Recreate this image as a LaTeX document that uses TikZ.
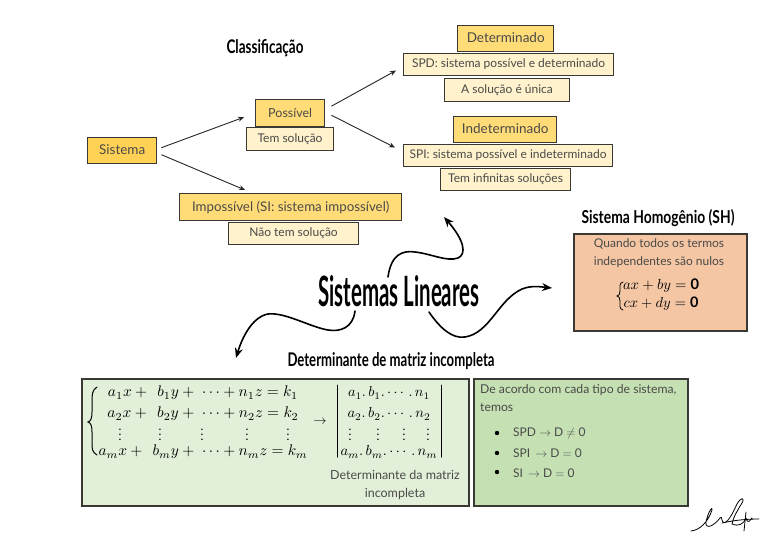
\documentclass[tikz,border=0pt]{standalone}
\usepackage{fontspec}
\usepackage{amsmath}
\usepackage{graphicx}
\usetikzlibrary{arrows.meta}
\setmainfont{Lato}
\newfontfamily\titlefont{Lato}
\definecolor{ink}{HTML}{4A4A48}
\definecolor{edge}{HTML}{3A3833}
\definecolor{ylA}{HTML}{FFD255}
\definecolor{ylB}{HTML}{FFDC78}
\definecolor{ylC}{HTML}{FFF2CC}
\definecolor{peach}{HTML}{F4C6A4}
\definecolor{grL}{HTML}{E2EFD9}
\definecolor{grD}{HTML}{C5E0B3}
\tikzset{
 x=1pt,y=-1pt,
 txt/.style={font=\fontsize{12}{15}\selectfont,text=ink},
 head/.style={draw=edge,line width=1.4pt,fill=ylB,font=\fontsize{13.5}{15}\selectfont,text=ink,inner sep=0pt,anchor=north west},
 sub/.style={draw=edge,line width=1.1pt,fill=ylC,txt,inner sep=0pt,anchor=north west},
 panel/.style={draw=edge,line width=1.5pt,anchor=north west,inner sep=0pt},
 arr/.style={-{Stealth[length=6pt,width=5pt]},line width=0.9pt,black!85},
 swirl/.style={-{Stealth[length=10pt,width=8pt]},line width=1.6pt,black,line cap=round,line join=round},
 ttl/.style={inner sep=0pt,text=black},
 mth/.style={inner sep=0pt,text=black},
 mline/.style={black,line width=1pt,line cap=round}
}
\newcommand{\boxat}[7]{\node[#1,minimum width=#5-#3,minimum height=#6-#4] (#2) at (#3,#4) {\raisebox{1.5pt}{#7}};}
\newcommand{\mrow}[1]{\resizebox{#1}{!}}
\newcommand{\vd}{\scalebox{1.2}{$\vdots$}}
\begin{document}
\begin{tikzpicture}
\useasboundingbox (0,0) rectangle (768,543);
\fill[white] (0,0) rectangle (768,543);
% titles
\node[ttl] (tclass) at (265,48) {\resizebox{77pt}{14pt}{\titlefont\bfseries Classificação}};
\node[ttl] (tmain) at (399,291) {\resizebox{161pt}{31pt}{\titlefont\bfseries Sistemas Lineares}};
\node[ttl] (tdet) at (391,361) {\resizebox{207pt}{14pt}{\titlefont\bfseries Determinante de matriz incompleta}};
\node[ttl] (tsh) at (658,218) {\resizebox{153pt}{14pt}{\titlefont\bfseries Sistema Homogênio (SH)}};
% classification boxes
\boxat{head,fill=ylA}{sis}{87}{137}{156}{163}{Sistema}
\boxat{head,font=\fontsize{12.5}{15}\selectfont}{pos}{255}{99}{324}{126}{Possível}
\boxat{sub}{possub}{246}{127}{333}{150}{Tem solução}
\boxat{head,font=\fontsize{13.3}{15}\selectfont}{imp}{179}{193}{401}{220}{Impossível (SI: sistema impossível)}
\boxat{sub}{impsub}{228}{222}{358}{244}{Não tem solução}
\boxat{head}{det}{457}{25}{553}{51}{Determinado}
\boxat{sub}{spd}{403}{53}{613}{75}{SPD: sistema possível e determinado}
\boxat{sub}{uni}{444}{78}{569}{101}{A solução é única}
\boxat{head}{ind}{453}{116}{556}{142}{Indeterminado}
\boxat{sub}{spi}{403}{144}{612}{166}{SPI: sistema possível e indeterminado}
\boxat{sub}{inf}{440}{168}{570}{190}{Tem infinitas soluções}
% straight connectors
\draw[arr] ([xshift=4pt,yshift=3pt]sis.east) -- ([xshift=-11pt,yshift=-4pt]pos.west);
\draw[arr] ([xshift=4pt,yshift=-4pt]sis.east) -- ([xshift=66pt,yshift=3pt]imp.north west);
\draw[arr] ([xshift=6pt,yshift=7pt]pos.east) -- ([xshift=-7pt,yshift=-6pt]spd.west);
\draw[arr] ([xshift=6pt,yshift=-2pt]pos.east) -- ([xshift=-8pt,yshift=8pt]spi.west);
% swirl arrows
\coordinate (upS) at (388,277); \coordinate (upE) at (444,217);
\coordinate (riS) at (429,312); \coordinate (riE) at (552,288);
\coordinate (leS) at (355,311); \coordinate (leE) at (236,358);
\draw[swirl] (upS) .. controls (391,255) and (402,250) .. (415,252)
  .. controls (432,254) and (447,262) .. (458,258)
  .. controls (467,254) and (464,240) .. (upE);
\draw[swirl] (riS) .. controls (440,328) and (452,339) .. (465,337)
  .. controls (490,333) and (498,300) .. (522,289)
  .. controls (532,285) and (542,287) .. (riE);
\draw[swirl] (leS) .. controls (353,328) and (340,332) .. (328,330)
  .. controls (310,327) and (285,312) .. (268,314)
  .. controls (252,317) and (242,338) .. (leE);
% SH panel
\node[panel,fill=peach,minimum width=173pt,minimum height=97pt] (sh) at (573,233) {};
\node[txt,align=center,font=\fontsize{12}{18}\selectfont] (shtxt) at (659,253) {Quando todos os termos\\independentes são nulos};
\draw[mline,line width=0.8pt] (623,282) .. controls (619,283) and (620,287) .. (620,291) .. controls (620,294) and (619,296) .. (617,296) .. controls (619,296) and (620,298) .. (620,301) .. controls (620,305) and (619,309) .. (623,310);
\node[mth] (sh1) at (661,286) {\mrow{76pt}{$ax+by=\mathbf{0}$}};
\node[mth] (sh2) at (661,304) {\mrow{75pt}{$cx+dy=\mathbf{0}$}};
% green panels
\node[panel,fill=grL,minimum width=387pt,minimum height=127pt] (gl) at (81,378) {};
\node[panel,fill=grD,minimum width=214pt,minimum height=127pt] (gr) at (473,378) {};
% system of equations
\draw[mline] (97,387) .. controls (92,390) and (92,395) .. (92,402) -- (92,412) .. controls (92,418) and (91,421) .. (88,422) .. controls (91,423) and (92,426) .. (92,432) -- (92,442) .. controls (92,449) and (92,452) .. (97,455);
\node[mth] (s1) at (203,393) {\mrow{190pt}{$a_1x+\;\,b_1y+\;\cdots+n_1z=k_1$}};
\node[mth] (s2) at (203,414) {\mrow{191pt}{$a_2x+\;\,b_2y+\;\cdots+n_2z=k_2$}};
\node[mth] (sd1) at (120,431) {\vd};
\node[mth] (sd2) at (160,431) {\vd};
\node[mth] (sd3) at (202,431) {\vd};
\node[mth] (sd4) at (247,431) {\vd};
\node[mth] (sd5) at (288,431) {\vd};
\node[mth] (s4) at (203,452) {\mrow{209pt}{$a_mx+\;\,b_my+\;\cdots+n_mz=k_m$}};
\node[mth] (arrow) at (320,422) {\scalebox{1.3}{$\rightarrow$}};
% determinant
\draw[mline] (337,385) -- (337,457);
\draw[mline] (441,385) -- (441,457);
\node[mth] (d1) at (389,393) {\mrow{82pt}{$a_1.\,b_1.\cdots.\,n_1$}};
\node[mth] (d2) at (389,414) {\mrow{83pt}{$a_2.\,b_2.\cdots.\,n_2$}};
\node[mth] (dd1) at (350,431) {\vd};
\node[mth] (dd2) at (378,431) {\vd};
\node[mth] (dd3) at (404,431) {\vd};
\node[mth] (dd4) at (428,431) {\vd};
\node[mth] (d4) at (389,452) {\mrow{97pt}{$a_m.\,b_m.\cdots.\,n_m$}};
\node[txt,align=center,font=\fontsize{12.5}{17.5}\selectfont] (dcap) at (395,485) {Determinante da matriz\\incompleta};
\node[txt,align=left,anchor=north west,inner sep=0pt,font=\fontsize{12.2}{18}\selectfont] (gtxt) at (480,384) {De acordo com cada tipo de sistema,\\temos};
\node[txt,anchor=west,inner sep=0pt] (l1) at (513,433) {SPD $\rightarrow$ D $\neq$ 0};
\node[txt,anchor=west,inner sep=0pt] (l2) at (513,453) {SPI\, $\rightarrow$ D $=$ 0};
\node[txt,anchor=west,inner sep=0pt] (l3) at (513,473) {SI\, $\rightarrow$ D $=$ 0};
\fill[black] (497,433) circle (2.2) (497,453) circle (2.2) (497,472) circle (2.2);
% signature
\draw[black,line width=0.8pt,line cap=round,line join=round]
 (691,531) .. controls (700,530) and (708,522) .. (712,510)
 .. controls (713,505) and (708,512) .. (706,522) .. controls (705,530) and (714,526) .. (720,518)
 .. controls (723,514) and (720,525) .. (726,522) .. controls (731,518) and (735,508) .. (737,504)
 .. controls (741,497) and (745,497) .. (742,503) .. controls (737,511) and (733,518) .. (732,524)
 .. controls (738,527) and (744,524) .. (746,518) .. controls (748,525) and (750,520) .. (752,518);
\draw[black,line width=0.8pt,line cap=round] (722,523) .. controls (735,520) and (748,519) .. (759,519);
\draw[black,line width=0.8pt,line cap=round] (746,512) -- (744,531);
\end{tikzpicture}
\end{document}
